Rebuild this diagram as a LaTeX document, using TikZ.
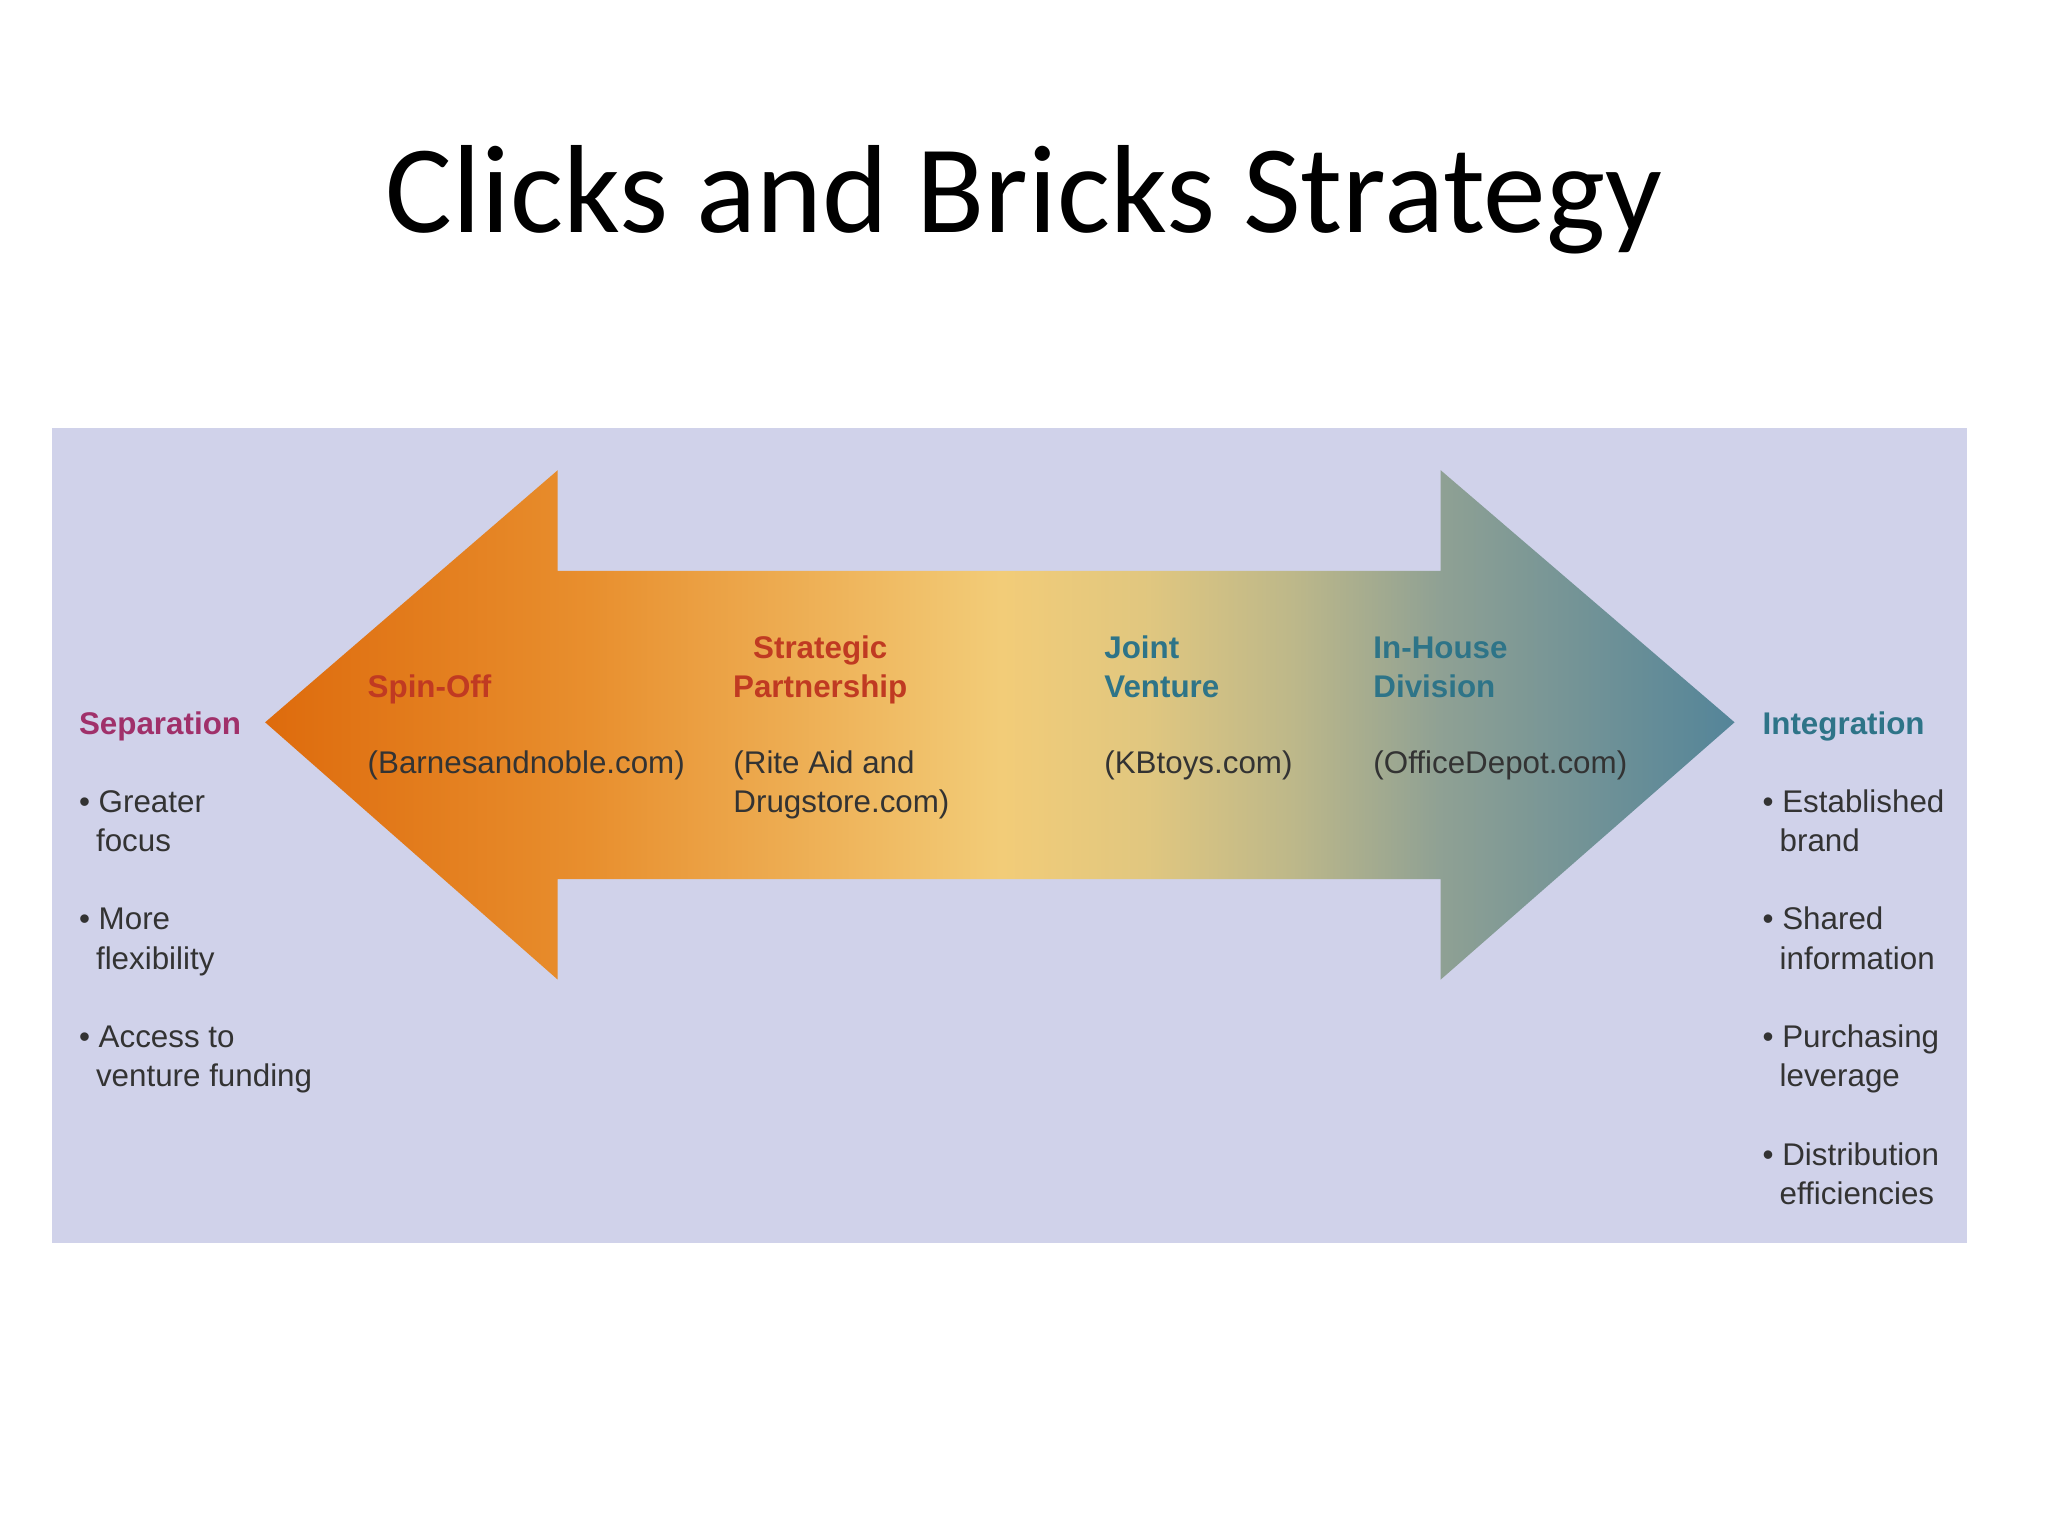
\documentclass[tikz,border=0pt]{standalone}
\usepackage{fontspec}
\setmainfont{Liberation Sans}
\newfontfamily\titlefont{Carlito}
\definecolor{bgc}{HTML}{D0D2EA}
\definecolor{sepc}{HTML}{A0306A}
\definecolor{redc}{HTML}{C03A22}
\definecolor{tealc}{HTML}{2E7488}
\definecolor{txt}{HTML}{333333}
\pgfdeclarehorizontalshading{arrowshade}{100bp}{
  rgb(0bp)=(0.87,0.42,0.05); rgb(25bp)=(0.87,0.42,0.05); rgb(36bp)=(0.91,0.56,0.18);
  rgb(50bp)=(0.95,0.80,0.47); rgb(55bp)=(0.88,0.78,0.50); rgb(60bp)=(0.74,0.72,0.54);
  rgb(65bp)=(0.56,0.63,0.58); rgb(75bp)=(0.33,0.52,0.60); rgb(100bp)=(0.33,0.52,0.60)}
\newcommand{\ind}{\hspace*{13pt}}
\begin{document}
\begin{tikzpicture}[x=1pt,y=-1pt,
  lab/.style={anchor=base west,font=\fontsize{24}{30}\selectfont\bfseries,align=left},
  body/.style={anchor=base west,font=\fontsize{24}{30}\selectfont,text=txt,align=left}]
\useasboundingbox (0,0) rectangle (1568,1176);
\fill[white] (0,0) rectangle (1568,1176);
\node[font=\titlefont\fontsize{96}{100}\selectfont,anchor=base] (title) at (784,178) {Clicks and Bricks Strategy};
\fill[bgc] (40,328) rectangle (1506,952);
\shade[shading=arrowshade]
  (203,553) -- (427,360) -- (427,437) -- (1103,437) -- (1103,360) -- (1328,553) -- (1103,750) -- (1103,673) -- (427,673) -- (427,750) -- cycle;
\node[lab,text=sepc] (sep) at (57,562) {Separation};
\node[body] (sepb) at (57,652) {\textbullet\ Greater\\\ind focus};
\node[body] (sepc) at (57,742) {\textbullet\ More\\\ind flexibility};
\node[body] (sepd) at (57,832) {\textbullet\ Access to\\\ind venture funding};
\node[lab,text=redc] (spin) at (278,534) {Spin-Off};
\node[body] (spinb) at (278,592) {(Barnesandnoble.com)};
\node[lab,text=redc,align=center,anchor=base] (strat) at (628,534) {Strategic\\Partnership};
\node[body] (stratb) at (558,622) {(Rite Aid and\\Drugstore.com)};
\node[lab,text=tealc] (joint) at (842,534) {Joint\\Venture};
\node[body] (jointb) at (842,592) {(KBtoys.com)};
\node[lab,text=tealc] (inh) at (1048,534) {In-House\\Division};
\node[body] (inhb) at (1048,592) {(OfficeDepot.com)};
\node[lab,text=tealc] (integ) at (1346,562) {Integration};
\node[body] (i1) at (1346,652) {\textbullet\ Established\\\ind brand};
\node[body] (i2) at (1346,742) {\textbullet\ Shared\\\ind information};
\node[body] (i3) at (1346,832) {\textbullet\ Purchasing\\\ind leverage};
\node[body] (i4) at (1346,922) {\textbullet\ Distribution\\\ind efficiencies};
\end{tikzpicture}
\end{document}
